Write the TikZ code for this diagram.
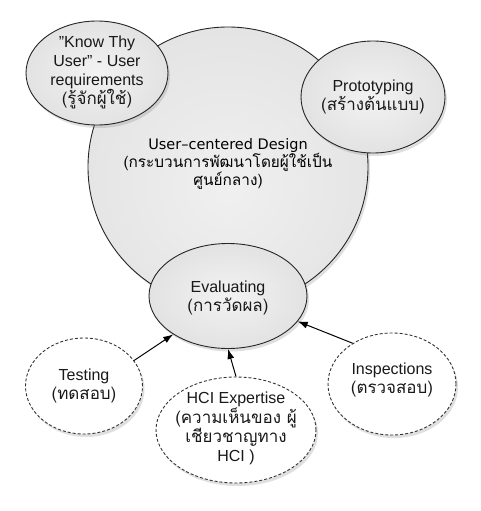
\documentclass[tikz,border=0pt]{standalone}
\usepackage{fontspec}
\setmainfont{Liberation Sans}
\newfontfamily\thai[Script=Thai,Scale=1.06]{Loma}
\newfontfamily\dejavu{DejaVu Sans}
\usetikzlibrary{shapes.geometric,shadows,arrows.meta}
\colorlet{bubA}{black!5}
\colorlet{bubB}{black!12}
\colorlet{bubC}{black!26}
\colorlet{bubD}{black!38}
\colorlet{bigA}{black!6}
\colorlet{bigB}{black!11}
\colorlet{bigC}{black!21}
\pgfdeclareradialshading{bubshade}{\pgfpoint{0bp}{0bp}}{color(0bp)=(bubA); color(28bp)=(bubB); color(44bp)=(bubC); color(50bp)=(bubD); color(70bp)=(bubD)}
\pgfdeclareradialshading{bigshade}{\pgfpoint{0bp}{-4bp}}{color(0bp)=(bigA); color(30bp)=(bigB); color(50bp)=(bigC); color(70bp)=(bigC)}
\begin{document}
\begin{tikzpicture}[x=1pt,y=-1pt,
  shd/.style={draw=black!85, line width=0.9pt, inner sep=0pt,
    drop shadow={opacity=0.25,shadow xshift=2pt,shadow yshift=-3pt}},
  bub/.style={ellipse, shd, shading=bubshade},
  dbub/.style={ellipse, draw=black!80, line width=0.9pt, dash pattern=on 3pt off 2pt,
    inner sep=0pt, fill=white,
    drop shadow={opacity=0.25,shadow xshift=2pt,shadow yshift=-3pt}},
  lbl/.style={align=center, inner sep=0pt, text=black!90, font=\fontsize{16}{19}\selectfont},
  arr/.style={-{Latex[length=10pt,width=7pt]}, line width=1pt}
]
\fill[white] (0,0) rectangle (480,511);
\useasboundingbox (0,0) rectangle (480,511);

% central circle
\node[circle, shd, shading=bigshade, minimum size=280pt] (ucd) at (228,167) {};
\node[align=center, inner sep=0pt, font=\fontsize{14.5}{16.5}\selectfont] (ucdT) at (228,164)
  {{\dejavu User–centered Design}\\{\thai (กระบวนการพัฒนาโดยผู้ใช้เป็น}\\{\thai ศูนย์กลาง)}};

% satellites
\node[bub, minimum width=142pt, minimum height=104pt] (know) at (97,73) {};
\node[lbl] (knowT) at (97,72) {"Know Thy\\User" - User\\requirements\\{\thai (รู้จักผู้ใช้)}};

\node[bub, minimum width=144pt, minimum height=112pt] (proto) at (373,97) {};
\node[lbl] (protoT) at (373,97) {Prototyping\\{\thai (สร้างต้นแบบ)}};

\node[bub, minimum width=158pt, minimum height=105pt] (eval) at (228,296) {};
\node[lbl] (evalT) at (228,298) {Evaluating\\{\thai (การวัดผล)}};

% dashed inputs
\node[dbub, minimum width=117pt, minimum height=96pt] (test) at (84,386) {};
\node[lbl] (testT) at (84,386) {Testing\\{\thai (ทดสอบ)}};

\node[dbub, minimum width=160pt, minimum height=106pt] (hci) at (236,430) {};
\node[lbl] (hciT) at (236,428) {HCI Expertise\\{\thai (ความเห็นของ ผู้}\\{\thai เชียวชาญทาง}\\HCI )};

\node[dbub, minimum width=128pt, minimum height=102pt] (insp) at (392,384) {};
\node[lbl] (inspT) at (392,380) {Inspections\\{\thai (ตรวจสอบ)}};

% arrows
\draw[arr] (test.27) -- (eval.215);
\draw[arr] (hci.90) -- (eval.270);
\draw[arr] (insp.134) -- (eval.-20);
\end{tikzpicture}
\end{document}
